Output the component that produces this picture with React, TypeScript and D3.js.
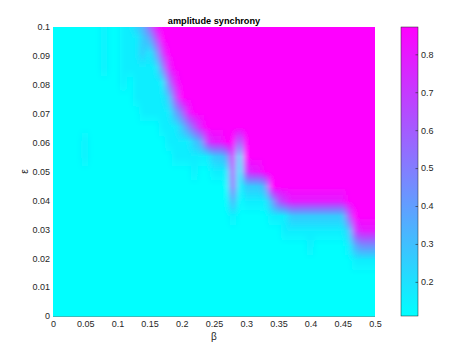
import React, { useEffect, useRef } from 'react';
import * as d3 from 'd3';

// grid of the simulation: columns are beta, rows are epsilon
const betaValues = [
    0, 0.01, 0.02, 0.03, 0.04, 0.05, 0.06, 0.07, 0.08, 0.09,
    0.1, 0.11, 0.12, 0.13, 0.14, 0.15, 0.16, 0.17, 0.18, 0.19,
    0.2, 0.21, 0.22, 0.23, 0.24, 0.25, 0.26, 0.27, 0.28, 0.29,
    0.3, 0.31, 0.32, 0.33, 0.34, 0.35, 0.36, 0.37, 0.38, 0.39,
    0.4, 0.41, 0.42, 0.43, 0.44, 0.45, 0.46, 0.47, 0.48, 0.49, 0.5,
];
const epsValues = [
    0, 0.005, 0.01, 0.015, 0.02, 0.025, 0.03, 0.035, 0.04, 0.045,
    0.05, 0.055, 0.06, 0.065, 0.07, 0.075, 0.08, 0.085, 0.09, 0.095, 0.1,
];

// amplitude synchrony level per digit
const levelValues = [0.11, 0.16, 0.27, 0.36, 0.448, 0.532, 0.617, 0.701, 0.786, 0.87];

// one string per beta column, one digit per epsilon row (eps = 0 first)
const synchronyColumns = [
    "000000000000000000000",
    "000000000000000000000",
    "000000000000000000000",
    "000000000000000000000",
    "000000000000000000000",
    "000000000001100000000",
    "000000000000000000000",
    "000000000000000000000",
    "000000000000000001111",
    "000000000000000000000",
    "000000000000000000000",
    "000000000000000011111",
    "000000000000000001111",
    "000000000000000111112",
    "000000000000001111223",
    "000000000000001111136",
    "000000000000001111369",
    "000000000000011114799",
    "000000000000111258999",
    "000000000001113689999",
    "000000000001125999999",
    "000000000001148999999",
    "000000000011269999999",
    "000000000001389999999",
    "000000000001799999999",
    "000000000012899999999",
    "000000000012899999999",
    "000000000013999999999",
    "000000013678999999999",
    "000000000001599999999",
    "000000001279999999999",
    "000000001289999999999",
    "000000001289999999999",
    "000000001399999999999",
    "000000013999999999999",
    "000000016999999999999",
    "000000117999999999999",
    "000000128999999999999",
    "000000128999999999999",
    "000000128999999999999",
    "000001128999999999999",
    "000000128999999999999",
    "000000128999999999999",
    "000000128999999999999",
    "000000128999999999999",
    "000000128999999999999",
    "000001269999999999999",
    "000013799999999999999",
    "000014899999999999999",
    "000014899999999999999",
    "000014899999999999999",
];

const xTicks = [0, 0.05, 0.1, 0.15, 0.2, 0.25, 0.3, 0.35, 0.4, 0.45, 0.5];
const yTicks = [0, 0.01, 0.02, 0.03, 0.04, 0.05, 0.06, 0.07, 0.08, 0.09, 0.1];
const colorTicks = [0.2, 0.3, 0.4, 0.5, 0.6, 0.7, 0.8];
const colorDomain = [0.11, 0.872];

const W = 474;
const H = 355;
const FONT = '"Liberation Sans", Helvetica, Arial, sans-serif';
const TEXT = '#262626';

export default function App() {
    const svgRef = useRef<SVGSVGElement>(null);

    useEffect(() => {
        if (!svgRef.current) return;
        const svg = d3.select(svgRef.current);
        svg.selectAll("*").remove();

        const plot = { left: 53, right: 375, top: 27, bottom: 316 };
        const bar = { left: 401, right: 418 };

        const x = d3.scaleLinear().domain([0, 0.5]).range([plot.left, plot.right]);
        const y = d3.scaleLinear().domain([0, 0.1]).range([plot.bottom, plot.top]);
        const cb = d3.scaleLinear().domain(colorDomain).range([plot.bottom, plot.top]);
        const color = d3.scaleSequential(d3.interpolateRgb("#00ffff", "#ff00ff")).domain(colorDomain);

        const defs = svg.append("defs");

        defs.append("clipPath").attr("id", "plot-clip")
            .append("rect")
            .attr("x", plot.left).attr("y", plot.top)
            .attr("width", plot.right - plot.left).attr("height", plot.bottom - plot.top);

        // soften the column edges horizontally (like interpolated shading)
        defs.append("filter").attr("id", "hblur")
            .attr("x", "-0.1").attr("y", "-0.05").attr("width", "1.2").attr("height", "1.1")
            .append("feGaussianBlur").attr("stdDeviation", "3 0.6");

        // vertical gradient for every beta column
        synchronyColumns.forEach((col, i) => {
            const grad = defs.append("linearGradient")
                .attr("id", `col-${i}`)
                .attr("x1", 0).attr("y1", 1).attr("x2", 0).attr("y2", 0);
            col.split("").forEach((c, r) => {
                grad.append("stop")
                    .attr("offset", epsValues[r] / 0.1)
                    .attr("stop-color", color(levelValues[+c]));
            });
        });

        const heat = svg.append("g").attr("clip-path", "url(#plot-clip)")
            .append("g").attr("filter", "url(#hblur)");

        const last = betaValues.length - 1;
        const left = (b: number, i: number) => i === 0 ? x(0) - 14 : x(b - 0.005) - 0.4;
        const right = (b: number, i: number) => i === last ? x(0.5) + 14 : x(b + 0.005) + 0.4;
        heat.selectAll("rect")
            .data(betaValues)
            .join("rect")
            .attr("x", (b, i) => left(b, i))
            .attr("width", (b, i) => right(b, i) - left(b, i))
            .attr("y", y(0.1) - 4)
            .attr("height", y(0) - y(0.1) + 8)
            .attr("fill", (b, i) => `url(#col-${i})`);

        // bottom axis line peeking out under the image
        svg.append("line")
            .attr("x1", plot.left).attr("x2", plot.right)
            .attr("y1", plot.bottom + 0.5).attr("y2", plot.bottom + 0.5)
            .attr("stroke", "#3cbcbc").attr("stroke-width", 1);

        // Axes
        const xAxis = svg.append("g")
            .attr("transform", `translate(0,${plot.bottom})`)
            .call(d3.axisBottom(x).tickValues(xTicks).tickSize(0).tickPadding(5).tickFormat(d => String(d)));
        const yAxis = svg.append("g")
            .attr("transform", `translate(${plot.left},0)`)
            .call(d3.axisLeft(y).tickValues(yTicks).tickSize(0).tickPadding(3).tickFormat(d => String(d)));

        // Colorbar
        const cbGrad = defs.append("linearGradient")
            .attr("id", "cb-grad")
            .attr("x1", 0).attr("y1", 1).attr("x2", 0).attr("y2", 0);
        [0, 0.25, 0.5, 0.75, 1].forEach(t => {
            cbGrad.append("stop").attr("offset", t)
                .attr("stop-color", color(colorDomain[0] + t * (colorDomain[1] - colorDomain[0])));
        });
        svg.append("rect")
            .attr("x", bar.left).attr("y", plot.top)
            .attr("width", bar.right - bar.left).attr("height", plot.bottom - plot.top)
            .attr("fill", "url(#cb-grad)")
            .attr("stroke", TEXT).attr("stroke-width", 0.5);

        const cAxis = svg.append("g")
            .attr("transform", `translate(${bar.right},0)`)
            .call(d3.axisRight(cb).tickValues(colorTicks).tickSizeInner(-2.5).tickSizeOuter(0).tickPadding(3).tickFormat(d => String(d)));

        [xAxis, yAxis, cAxis].forEach(a => {
            a.select(".domain").remove();
            a.selectAll("line").attr("stroke", TEXT).attr("stroke-width", 0.6);
            a.selectAll("text")
                .attr("fill", TEXT)
                .style("font-family", FONT)
                .style("font-size", "9px");
        });

        // Title and labels
        svg.append("text")
            .attr("x", (plot.left + plot.right) / 2).attr("y", 23.5)
            .attr("text-anchor", "middle")
            .style("font-family", FONT).style("font-size", "9.2px").style("font-weight", "bold")
            .attr("fill", "#000")
            .text("amplitude synchrony");

        svg.append("text")
            .attr("x", (plot.left + plot.right) / 2).attr("y", 340)
            .attr("text-anchor", "middle")
            .style("font-family", FONT).style("font-size", "10px")
            .attr("fill", TEXT)
            .text("β");

        svg.append("text")
            .attr("transform", `translate(28,${(plot.top + plot.bottom) / 2}) rotate(-90)`)
            .attr("text-anchor", "middle")
            .style("font-family", FONT).style("font-size", "10px")
            .attr("fill", TEXT)
            .text("ε");
    }, []);

    return (
        <div style={{ position: 'absolute', left: 0, top: 0, width: W, height: H, background: '#fff' }}>
            <svg ref={svgRef} width={W} height={H} style={{ display: 'block' }} />
        </div>
    );
}
